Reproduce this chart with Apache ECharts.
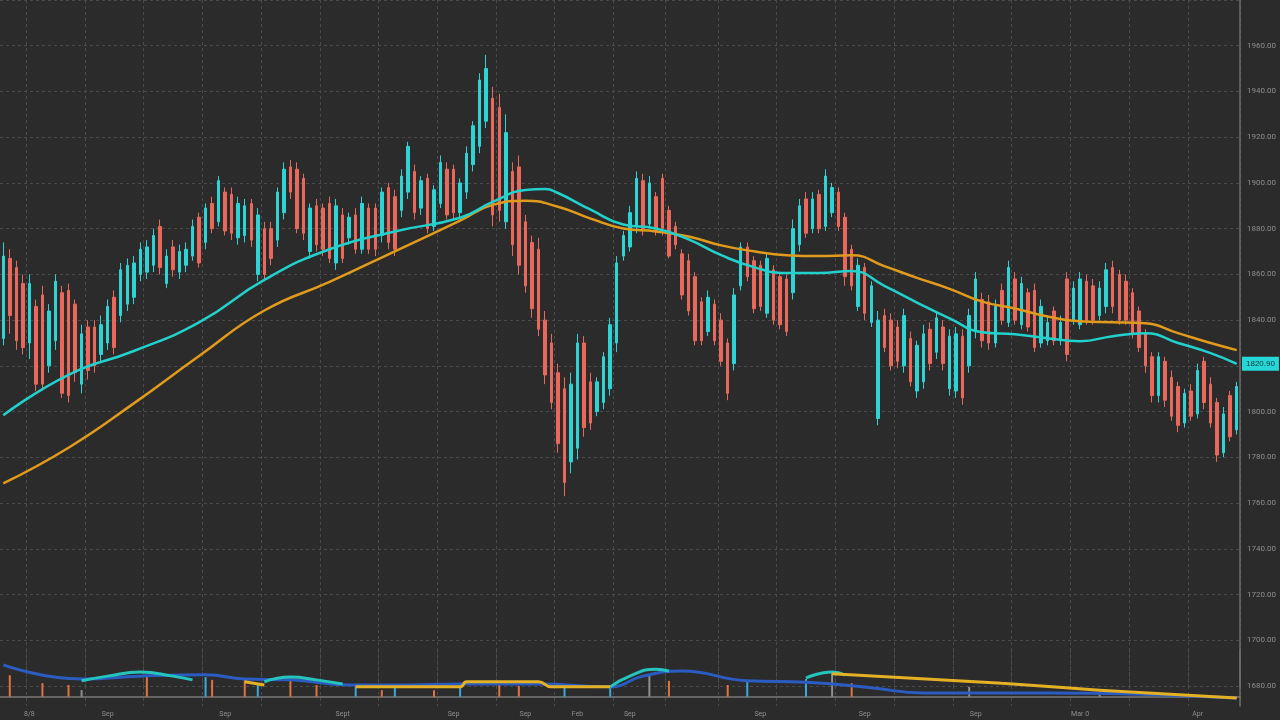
<!DOCTYPE html>
<html>
<head>
<meta charset="utf-8">
<script src="https://cdn.jsdelivr.net/npm/echarts@6/dist/echarts.min.js"></script>
<style>
html, body { margin: 0; padding: 0; background: #2b2b2b; }
#chart { width: 1280px; height: 720px; }
</style>
</head>
<body>
<div id="chart"></div>
<script>
// bars: [open, close, low, high]
const candles = [
  [1832,1868,1829,1874],[1867,1842,1834,1871],[1863,1831,1827,1866],[1856,1828,1825,1860],[1830,1856,1823,1860],
  [1846,1812,1809,1849],[1851,1812,1810,1855],[1820,1844,1817,1847],[1831,1857,1827,1860],[1852,1808,1806,1855],
  [1853,1807,1804,1856],[1847,1817,1813,1849],[1812,1834,1808,1838],[1837,1818,1814,1840],[1837,1820,1817,1840],
  [1825,1838,1822,1842],[1830,1846,1827,1849],[1850,1828,1825,1853],[1842,1862,1839,1865],[1847,1864,1844,1867],
  [1850,1865,1847,1868],[1860,1871,1857,1874],[1861,1872,1858,1875],[1864,1877,1861,1880],[1881,1863,1860,1884],
  [1856,1868,1854,1871],[1872,1862,1859,1875],[1861,1870,1858,1873],[1864,1871,1861,1874],[1868,1881,1866,1884],
  [1885,1865,1863,1887],[1874,1889,1871,1891],[1891,1880,1878,1894],[1883,1901,1881,1903],[1896,1879,1877,1898],
  [1895,1878,1875,1898],[1876,1891,1873,1894],[1877,1890,1874,1893],[1891,1875,1872,1893],[1860,1886,1857,1889],
  [1880,1860,1857,1883],[1880,1867,1864,1883],[1875,1896,1872,1898],[1887,1906,1884,1909],[1907,1896,1893,1910],
  [1906,1880,1878,1909],[1902,1878,1875,1904],[1870,1889,1867,1891],[1890,1873,1870,1893],[1889,1871,1868,1891],
  [1891,1867,1865,1894],[1865,1890,1862,1893],[1886,1867,1865,1889],[1876,1885,1873,1887],[1886,1871,1869,1889],
  [1871,1891,1869,1894],[1889,1871,1869,1891],[1889,1871,1868,1891],[1877,1896,1874,1898],[1898,1874,1871,1900],
  [1894,1871,1868,1897],[1888,1903,1885,1906],[1896,1916,1893,1918],[1905,1887,1884,1908],[1889,1901,1886,1903],
  [1902,1880,1878,1904],[1881,1897,1879,1899],[1891,1909,1889,1912],[1906,1886,1884,1909],[1906,1887,1884,1908],
  [1887,1900,1884,1902],[1896,1913,1893,1916],[1908,1925,1905,1927],[1916,1945,1913,1948],[1927,1950,1924,1956],
  [1937,1886,1881,1942],[1933,1888,1883,1939],[1883,1922,1880,1930],[1905,1873,1868,1909],[1907,1864,1860,1912],
  [1883,1855,1852,1886],[1874,1845,1841,1877],[1871,1836,1833,1876],[1840,1816,1812,1844],[1830,1804,1801,1834],
  [1817,1786,1782,1821],[1810,1769,1763,1815],[1778,1812,1773,1817],[1784,1830,1779,1834],[1830,1793,1789,1833],
  [1813,1795,1792,1817],[1800,1813,1798,1815],[1804,1824,1801,1826],[1810,1838,1807,1841],[1830,1865,1826,1868],
  [1868,1877,1866,1879],[1872,1887,1870,1890],[1881,1902,1878,1905],[1901,1880,1877,1904],[1882,1900,1880,1903],
  [1894,1879,1877,1896],[1902,1880,1877,1904],[1888,1868,1867,1890],[1881,1873,1871,1883],[1869,1851,1849,1871],
  [1866,1844,1842,1869],[1859,1831,1829,1861],[1848,1831,1829,1850],[1835,1850,1833,1853],[1847,1831,1829,1849],
  [1840,1822,1820,1843],[1830,1808,1805,1832],[1821,1851,1818,1854],[1855,1872,1853,1874],[1872,1859,1857,1874],
  [1866,1845,1843,1868],[1864,1846,1844,1866],[1843,1867,1841,1869],[1862,1840,1838,1864],[1859,1838,1836,1861],
  [1858,1835,1833,1860],[1852,1880,1849,1884],[1873,1890,1870,1893],[1893,1878,1876,1896],[1880,1893,1878,1896],
  [1895,1880,1878,1897],[1881,1903,1879,1906],[1887,1898,1885,1900],[1896,1881,1879,1898],[1885,1859,1855,1887],
  [1871,1855,1853,1873],[1846,1864,1844,1867],[1863,1843,1840,1865],[1839,1855,1837,1857],[1797,1840,1794,1844],
  [1842,1828,1826,1845],[1840,1820,1818,1843],[1837,1822,1819,1840],[1820,1842,1817,1845],[1832,1813,1811,1835],
  [1809,1829,1806,1831],[1813,1834,1810,1838],[1836,1821,1818,1839],[1826,1841,1823,1844],[1837,1821,1818,1840],
  [1810,1833,1807,1836],[1809,1834,1806,1837],[1833,1806,1803,1836],[1820,1842,1817,1845],[1835,1858,1832,1861],
  [1849,1831,1828,1852],[1848,1830,1827,1851],[1830,1846,1828,1849],[1853,1840,1838,1856],[1839,1863,1837,1866],
  [1858,1840,1838,1861],[1838,1856,1836,1859],[1852,1837,1835,1854],[1853,1828,1826,1856],[1830,1846,1828,1849],
  [1831,1839,1829,1842],[1844,1831,1829,1846],[1831,1839,1829,1842],[1858,1825,1822,1861],[1840,1854,1838,1857],
  [1838,1858,1836,1861],[1857,1840,1838,1860],[1855,1840,1838,1858],[1842,1854,1840,1857],[1846,1862,1843,1865],
  [1863,1846,1843,1866],[1860,1840,1838,1862],[1857,1840,1838,1860],[1852,1834,1832,1854],[1844,1828,1826,1846],
  [1834,1820,1817,1836],[1824,1807,1804,1826],[1807,1824,1804,1826],[1822,1805,1802,1824],[1815,1798,1796,1818],
  [1811,1794,1791,1813],[1795,1808,1793,1810],[1809,1798,1796,1812],[1799,1818,1797,1821],[1822,1804,1801,1824],
  [1812,1795,1793,1815],[1804,1781,1778,1806],[1782,1799,1780,1802],[1807,1789,1787,1809],[1792,1811,1790,1813]
];

// moving averages: [bar index, value]
const maFast = [
  [0,1798.4],[10,1816.1],[20,1826.5],[30,1839],[40,1857.6],[50,1871],[60,1878.8],[70,1884.8],[75,1891.7],
  [80,1896.9],[83,1897.3],[85,1895.6],[90,1888.3],[95,1881.8],[100,1880.1],[105,1875.3],[110,1868.4],
  [115,1863.2],[120,1860.6],[125,1860.6],[130,1861.5],[135,1855],[140,1847.7],[145,1840.8],[150,1834.7],
  [155,1833.8],[160,1832.1],[165,1830.8],[170,1833],[175,1834.3],[180,1830],[185,1825.6],[189,1820.9]
];
const maSlow = [
  [0,1768.6],[10,1784.2],[20,1803.6],[30,1824.3],[40,1844.2],[50,1856.7],[60,1870.1],[70,1883.5],[75,1890.4],
  [80,1892.2],[85,1889.6],[90,1884.4],[95,1880.1],[100,1878.8],[105,1876.6],[110,1872.7],[115,1870.1],
  [120,1868.4],[125,1868],[130,1868.4],[135,1863.6],[140,1858.5],[145,1853.7],[150,1848.1],[155,1845.1],
  [160,1841.6],[165,1839.5],[170,1839.1],[175,1838.6],[180,1834.3],[185,1830],[189,1826.9]
];

// lower oscillator pane
const oscBlue = [
  [0,68],[12,38],[21,44],[31,47],[37,38],[44,36],[53,25],[62,25],[70,27],[82,27],[93,21],[98,44],
  [104,55],[114,34],[123,31],[133,19],[141,8],[160,8],[189,-3]
];
const oscCyan = [
  [[12,34],[16,44],[21,53],[26,44],[29,36]],
  [[40,32],[44,42],[48,36],[52,27]],
  [[93,21],[96,44],[100,59],[102,55]],
  [[123,40],[127,53],[129,46]]
];
const oscGold = [
  [[37,32],[40,25]],
  [[54,21],[70,21],[71,32],[82,32],[84,21],[93,21]],
  [[127,49],[153,29],[168,14],[189,-3]]
];
const spikeUp = [[31,42],[39,25],[54,25],[60,27],[70,25],[86,21],[93,23],[114,34],[123,38]];
const spikeDown = [[1,46],[6,29],[10,25],[22,42],[32,36],[37,38],[44,34],[48,25],[58,14],[66,14],[76,29],[79,23],[102,34],[111,25],[130,29]];
const spikeFlat = [[12,14],[99,46],[127,55],[148,21],[168,10]];

// x tick labels
const xTickIdx = [4, 16, 34, 52, 69, 80, 88, 96, 116, 132, 149, 165, 183];
const xTickText = ['8/8', 'Sep', 'Sep', 'Sept', 'Sep', 'Sep', 'Feb', 'Sep', 'Sep', 'Sep', 'Sep', 'Mar 0', 'Apr'];

const vLineIdx = [4, 13, 22, 31, 40, 49, 58, 67, 76, 85, 94, 102, 110, 119, 128, 137, 146, 155, 164, 173, 182];

const cats = candles.map((_, i) => 'd' + i);
const vSet = new Set(vLineIdx);
const tickSet = new Set(xTickIdx);

const UP = '#2fd3d3', DOWN = '#e8685b';
const gridLine = { color: '#4a4a4a', width: 1, type: [3, 3] };

let myChart = echarts.init(document.getElementById('chart'));

let series = [
  {
    name: 'price',
    type: 'candlestick',
    xAxisIndex: 0, yAxisIndex: 0,
    barWidth: 3,
    itemStyle: { color: UP, color0: DOWN, borderColor: UP, borderColor0: DOWN, borderWidth: 1 },
    data: candles
  },
  {
    name: 'maSlow',
    type: 'line', xAxisIndex: 0, yAxisIndex: 0,
    smooth: true, symbol: 'none',
    lineStyle: { color: '#e09a1c', width: 2.5 },
    data: maSlow
  },
  {
    name: 'maFast',
    type: 'line', xAxisIndex: 0, yAxisIndex: 0,
    smooth: true, symbol: 'none',
    lineStyle: { color: '#22d0cc', width: 2.5 },
    data: maFast,
    markLine: {
      silent: true, symbol: 'none',
      lineStyle: { color: 'rgba(0,0,0,0)', width: 0 },
      label: {
        show: true,
        position: 'end', distance: 2,
        backgroundColor: '#27d6d6', color: '#15393a',
        fontSize: 8, padding: [3, 4],
        formatter: p => p.value.toFixed(2)
      },
      data: [{ yAxis: maFast[maFast.length - 1][1] }]
    }
  },
  {
    type: 'line', xAxisIndex: 1, yAxisIndex: 2,
    smooth: true, symbol: 'none',
    lineStyle: { color: '#2b5cc2', width: 3 },
    data: oscBlue
  }
];
oscCyan.forEach(seg => series.push({
  type: 'line', xAxisIndex: 1, yAxisIndex: 2,
  smooth: true, symbol: 'none',
  lineStyle: { color: '#25c4bd', width: 3 },
  data: seg
}));
oscGold.forEach(seg => series.push({
  type: 'line', xAxisIndex: 1, yAxisIndex: 2,
  smooth: true, symbol: 'none',
  lineStyle: { color: '#e4b024', width: 3 },
  data: seg
}));
[[spikeUp, '#3aa9d8'], [spikeDown, '#df7442'], [spikeFlat, '#8f8f8f']].forEach(([d, c]) => series.push({
  type: 'bar', xAxisIndex: 1, yAxisIndex: 2,
  barWidth: 2, barGap: '-100%',
  itemStyle: { color: c },
  data: d
}));

let option = {
  backgroundColor: '#2b2b2b',
  animation: false,
  grid: [
    { left: 0, right: 40, top: -8.29, bottom: 34 },
    { left: 0, right: 40, top: 650, bottom: 14 }
  ],
  xAxis: [
    {
      type: 'category', gridIndex: 0, data: cats, boundaryGap: true,
      axisLine: { show: false }, axisTick: { show: false }, axisLabel: { show: false },
      splitLine: { show: true, interval: i => vSet.has(i), lineStyle: gridLine }
    },
    {
      type: 'category', gridIndex: 1, data: cats, boundaryGap: true,
      axisLine: { show: true, lineStyle: { color: '#7a7a7a', width: 1.5 } },
      axisTick: { show: false },
      axisLabel: {
        interval: i => tickSet.has(i),
        formatter: (v, i) => xTickText[xTickIdx.indexOf(i)] || '',
        color: '#8e8e8e', fontSize: 7, margin: 5, fontFamily: 'Roboto'
      },
      splitLine: { show: true, interval: i => vSet.has(i), lineStyle: gridLine }
    }
  ],
  yAxis: [
    {
      type: 'value', gridIndex: 0, position: 'right',
      min: 1680, max: 1980, interval: 20,
      axisLine: { show: true, lineStyle: { color: '#6c6c6c', width: 1.5 } },
      axisTick: { show: false },
      axisLabel: {
        color: '#8e8e8e', fontSize: 8, margin: 7, fontFamily: 'Roboto',
        showMaxLabel: false,
        formatter: v => v.toFixed(2)
      },
      splitLine: { show: true, lineStyle: gridLine }
    },
    {
      type: 'value', gridIndex: 1, position: 'right',
      min: -20, max: 100,
      axisLine: { show: true, lineStyle: { color: '#6c6c6c', width: 1.5 } },
      axisTick: { show: false }, axisLabel: { show: false }, splitLine: { show: false }
    },
    {
      type: 'value', gridIndex: 1, show: false,
      min: -20, max: 100
    }
  ],
  series: series
};
myChart.setOption(option);
</script>
</body>
</html>
